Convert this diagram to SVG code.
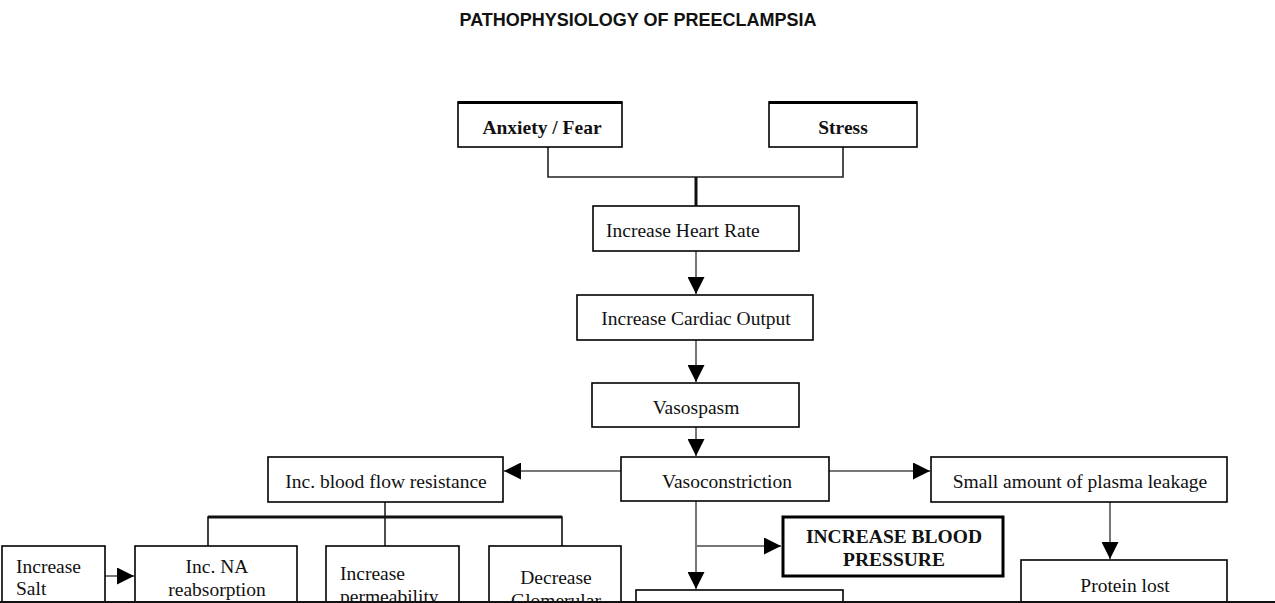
<svg xmlns="http://www.w3.org/2000/svg" width="1275" height="603" viewBox="0 0 1275 603">
<style>
.box{fill:#fff;stroke:#000;stroke-width:1.6}
.bold{fill:#fff;stroke:#000;stroke-width:3}
.t{font-family:"Liberation Serif","Times New Roman",serif;font-size:19.5px;fill:#111}
.tb{font-family:"Liberation Serif","Times New Roman",serif;font-size:19.5px;font-weight:bold;fill:#111}
.c{text-anchor:middle}
.ln{fill:none;stroke:#777;stroke-width:2}
.dk{fill:none;stroke:#222;stroke-width:1.6}
</style>
<defs>
<marker id="ahb" viewBox="0 0 10 10" refX="10" refY="5" markerWidth="17" markerHeight="17" markerUnits="userSpaceOnUse" orient="auto">
<path d="M0,0 L10,5 L0,10 Z" fill="#000"/>
</marker>
</defs>
<rect width="1275" height="603" fill="#fff"/>
<text x="638" y="26" text-anchor="middle" font-family="Liberation Sans, Arial, sans-serif" font-size="18" font-weight="bold" fill="#111">PATHOPHYSIOLOGY OF PREECLAMPSIA</text>

<g id="connectors">
<path class="dk" d="M548,147 V177 H843 V147"/>
<path d="M696,177 V206" stroke="#111" stroke-width="3" fill="none"/>
<path class="ln" d="M696,251 V294" marker-end="url(#ahb)"/>
<path class="ln" d="M696,340 V382" marker-end="url(#ahb)"/>
<path class="ln" d="M696,427 V456" marker-end="url(#ahb)"/>
<path class="ln" d="M621,471 H504" marker-end="url(#ahb)"/>
<path class="ln" d="M829,471 H930" marker-end="url(#ahb)"/>
<path class="ln" d="M1110,502 V559" marker-end="url(#ahb)"/>
<path class="ln" d="M696,501 V589" marker-end="url(#ahb)"/>
<path class="ln" d="M696,546 H781" marker-end="url(#ahb)"/>
<path class="dk" d="M385,502 V546"/>
<path d="M208,546 V517 H562 V546" stroke="#111" stroke-width="1.6" fill="none"/>
<path d="M208,517 H562" stroke="#111" stroke-width="3" fill="none"/>
<path class="ln" d="M105,576 H134" marker-end="url(#ahb)"/>
</g>

<g id="anxiety"><rect class="box" x="458" y="102" width="164" height="45"/><path d="M458,102.5 H622" stroke="#000" stroke-width="3"/><text class="tb c" x="542" y="134">Anxiety / Fear</text></g>
<g id="stress"><rect class="box" x="769" y="102" width="148" height="45"/><path d="M769,102.5 H917" stroke="#000" stroke-width="3"/><text class="tb c" x="843" y="134">Stress</text></g>
<g id="heartrate"><rect class="box" x="593" y="206" width="206" height="45"/><text class="t" x="606" y="237">Increase Heart Rate</text></g>
<g id="cardiac"><rect class="box" x="577" y="295" width="236" height="45"/><text class="t c" x="696" y="325">Increase Cardiac Output</text></g>
<g id="vasospasm"><rect class="box" x="592" y="383" width="207" height="44"/><text class="t c" x="696" y="414">Vasospasm</text></g>
<g id="vasoconstriction"><rect class="box" x="621" y="457" width="208" height="44"/><text class="t c" x="727" y="488">Vasoconstriction</text></g>
<g id="resistance"><rect class="box" x="268" y="457" width="235" height="45"/><text class="t c" x="386" y="488">Inc. blood flow resistance</text></g>
<g id="plasma"><rect class="box" x="931" y="457" width="296" height="45"/><text class="t c" x="1080" y="488">Small amount of plasma leakage</text></g>
<g id="bp"><rect class="bold" x="783" y="517" width="220" height="59"/><text class="tb c" x="894" y="543">INCREASE BLOOD</text><text class="tb c" x="894" y="566">PRESSURE</text></g>
<g id="protein"><rect class="box" x="1021" y="560" width="206" height="70"/><text class="t c" x="1125" y="592">Protein lost</text></g>
<g id="bottombox"><rect class="box" x="636" y="590" width="207" height="40"/></g>
<g id="salt"><rect class="box" x="2" y="546" width="103" height="80"/><text class="t" x="16" y="573">Increase</text><text class="t" x="16" y="595">Salt</text></g>
<g id="na"><rect class="box" x="135" y="546" width="162" height="80"/><text class="t c" x="217" y="573">Inc. NA</text><text class="t c" x="217" y="596">reabsorption</text></g>
<g id="permeability"><rect class="box" x="326" y="546" width="133" height="80"/><text class="t" x="340" y="580">Increase</text><text class="t" x="340" y="603">permeability</text></g>
<g id="glomerular"><rect class="box" x="489" y="546" width="132" height="80"/><text class="t c" x="556" y="584">Decrease</text><text class="t c" x="556" y="607">Glomerular</text></g>
<rect x="0" y="601" width="1275" height="2" fill="#111"/>
</svg>
